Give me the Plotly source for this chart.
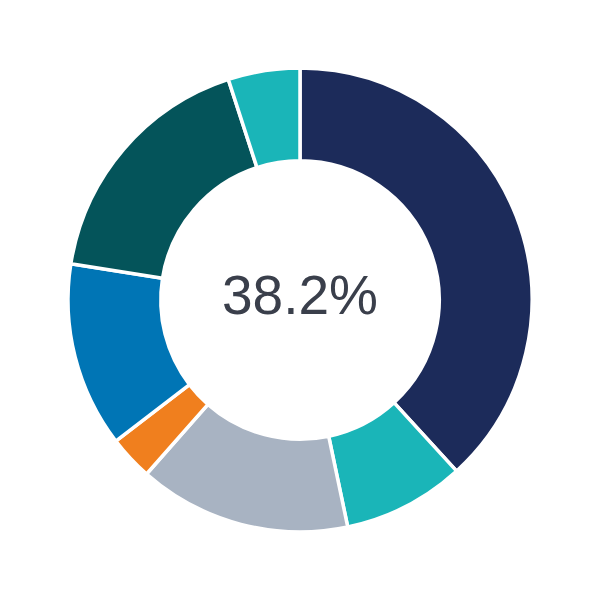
import plotly.graph_objects as go

labels = ["A", "B", "C", "D", "E", "F", "G"]
values = [38.2, 8.5, 14.8, 3.1, 12.9, 17.5, 5.0]
colors = ["#1c2b5a", "#1ab5b8", "#a8b3c2", "#f07f1e", "#0075b5", "#04545a", "#1ab5b8"]
center_text = "38.2%"

fig = go.Figure(data=[go.Pie(
    labels=labels,
    values=values,
    hole=0.6,
    sort=False,
    direction="clockwise",
    rotation=0,
    marker=dict(colors=colors, line=dict(color="white", width=3.5)),
    textinfo="none",
    hoverinfo="skip",
    showlegend=False,
)])

fig.add_annotation(
    text=center_text,
    x=0.5, y=0.5, xref="paper", yref="paper",
    yshift=5,
    showarrow=False,
    font=dict(family="Liberation Sans, Arial", size=55, color="#3a3f4b"),
)

# page body has an 8px margin, so nudge the plot area up/left
fig.update_layout(
    width=600,
    height=600,
    margin=dict(l=60, r=76, t=60, b=76),
    paper_bgcolor="white",
    plot_bgcolor="white",
)

fig.write_html("out.html")
